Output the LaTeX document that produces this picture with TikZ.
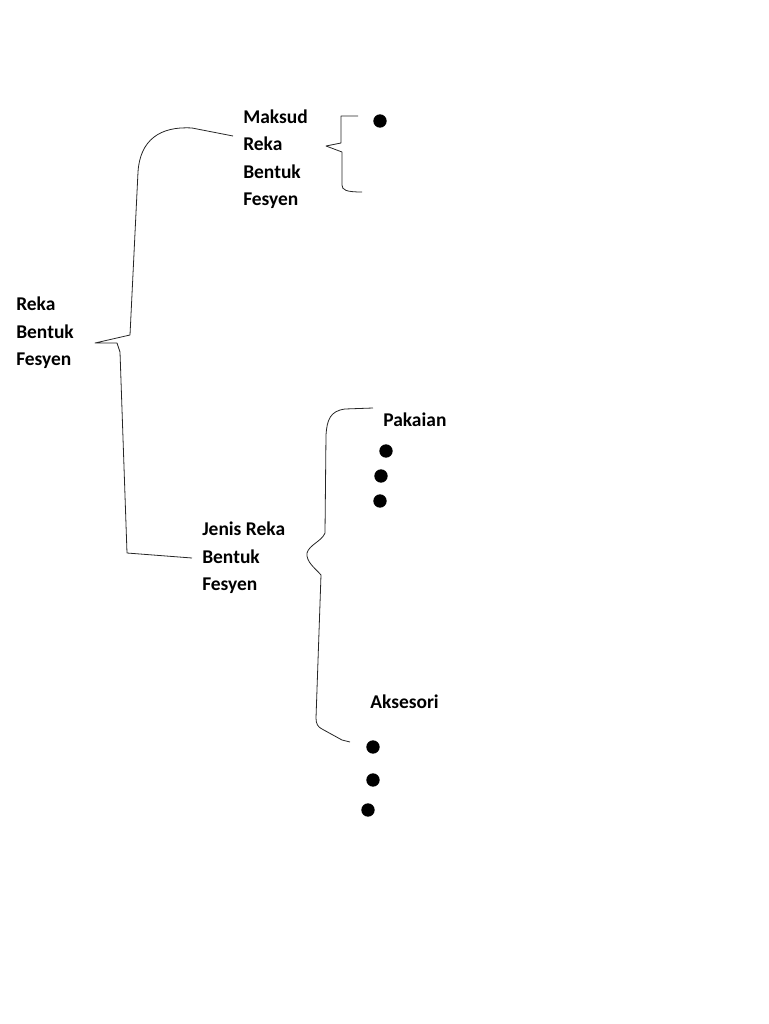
\documentclass[tikz,border=0pt]{standalone}
\usepackage{fontspec}
\setmainfont{Carlito}
\usetikzlibrary{positioning}

\tikzset{
  label/.style={align=left, anchor=west, inner sep=0pt, font=\bfseries\fontsize{14.6}{20.6}\selectfont},
  dot/.style={circle, fill=black, inner sep=0pt, minimum size=10pt},
  brace/.style={draw=black!85, line width=0.6pt, line join=round}
}

\begin{document}
\begin{tikzpicture}[x=0.75pt, y=-0.75pt]
   \useasboundingbox (0,0) rectangle (768,1024);

   % teks utama
   \node[label] (rbf) at (16,333) {Reka\\Bentuk\\Fesyen};
   \node[label] (maksud) at (243,159) {Maksud\\Reka\\Bentuk\\Fesyen};
   \node[label] (jenis) at (202,558) {Jenis Reka\\Bentuk\\Fesyen};
   \node[label] (pakaian) at (383,420) {Pakaian};
   \node[label] (aksesori) at (370,702) {Aksesori};

   % titik
   \node[dot] (m_1) at (380,121) {};
   \node[dot] (p_1) at (386,451) {};
   \node[dot] (p_2) at (381,476) {};
   \node[dot] (p_3) at (380,501) {};
   \node[dot] (a_1) at (373,747) {};
   \node[dot] (a_2) at (373,780) {};
   \node[dot] (a_3) at (368,810) {};

   % hujung kurungan
   \coordinate (big_tip) at (95,343);
   \coordinate (big_top) at (233,136);
   \coordinate (big_bot) at (192,558);
   \coordinate (mk_tip) at (326,146);
   \coordinate (mk_top) at (358,116);
   \coordinate (mk_bot) at (362,192);
   \coordinate (jn_tip) at (307,553);
   \coordinate (jn_top) at (373,408);
   \coordinate (jn_bot) at (350,742);

   % kurungan besar
   \draw[brace] (big_top) -- (192,128) .. controls (160,126) and (140,140) .. (138,172)
      -- (130,335) -- (big_tip) -- (117,343) -- (120,352) -- (127,553) -- (big_bot);

   % kurungan Maksud
   \draw[brace] (mk_top) -- (341,116) -- (341,143) -- (mk_tip) -- (342,152)
      -- (342,185) .. controls (342,190) and (346,192) .. (mk_bot);

   % kurungan Jenis
   \draw[brace] (jn_top) -- (345,409) .. controls (330,411) and (327,420) .. (326,435)
      -- (325,533) .. controls (322,541) and (309,545) .. (jn_tip)
      .. controls (306,562) and (315,568) .. (321,575)
      -- (316,718) .. controls (316,724) and (318,727) .. (322,729)
      -- (342,740) -- (jn_bot);
\end{tikzpicture}
\end{document}
